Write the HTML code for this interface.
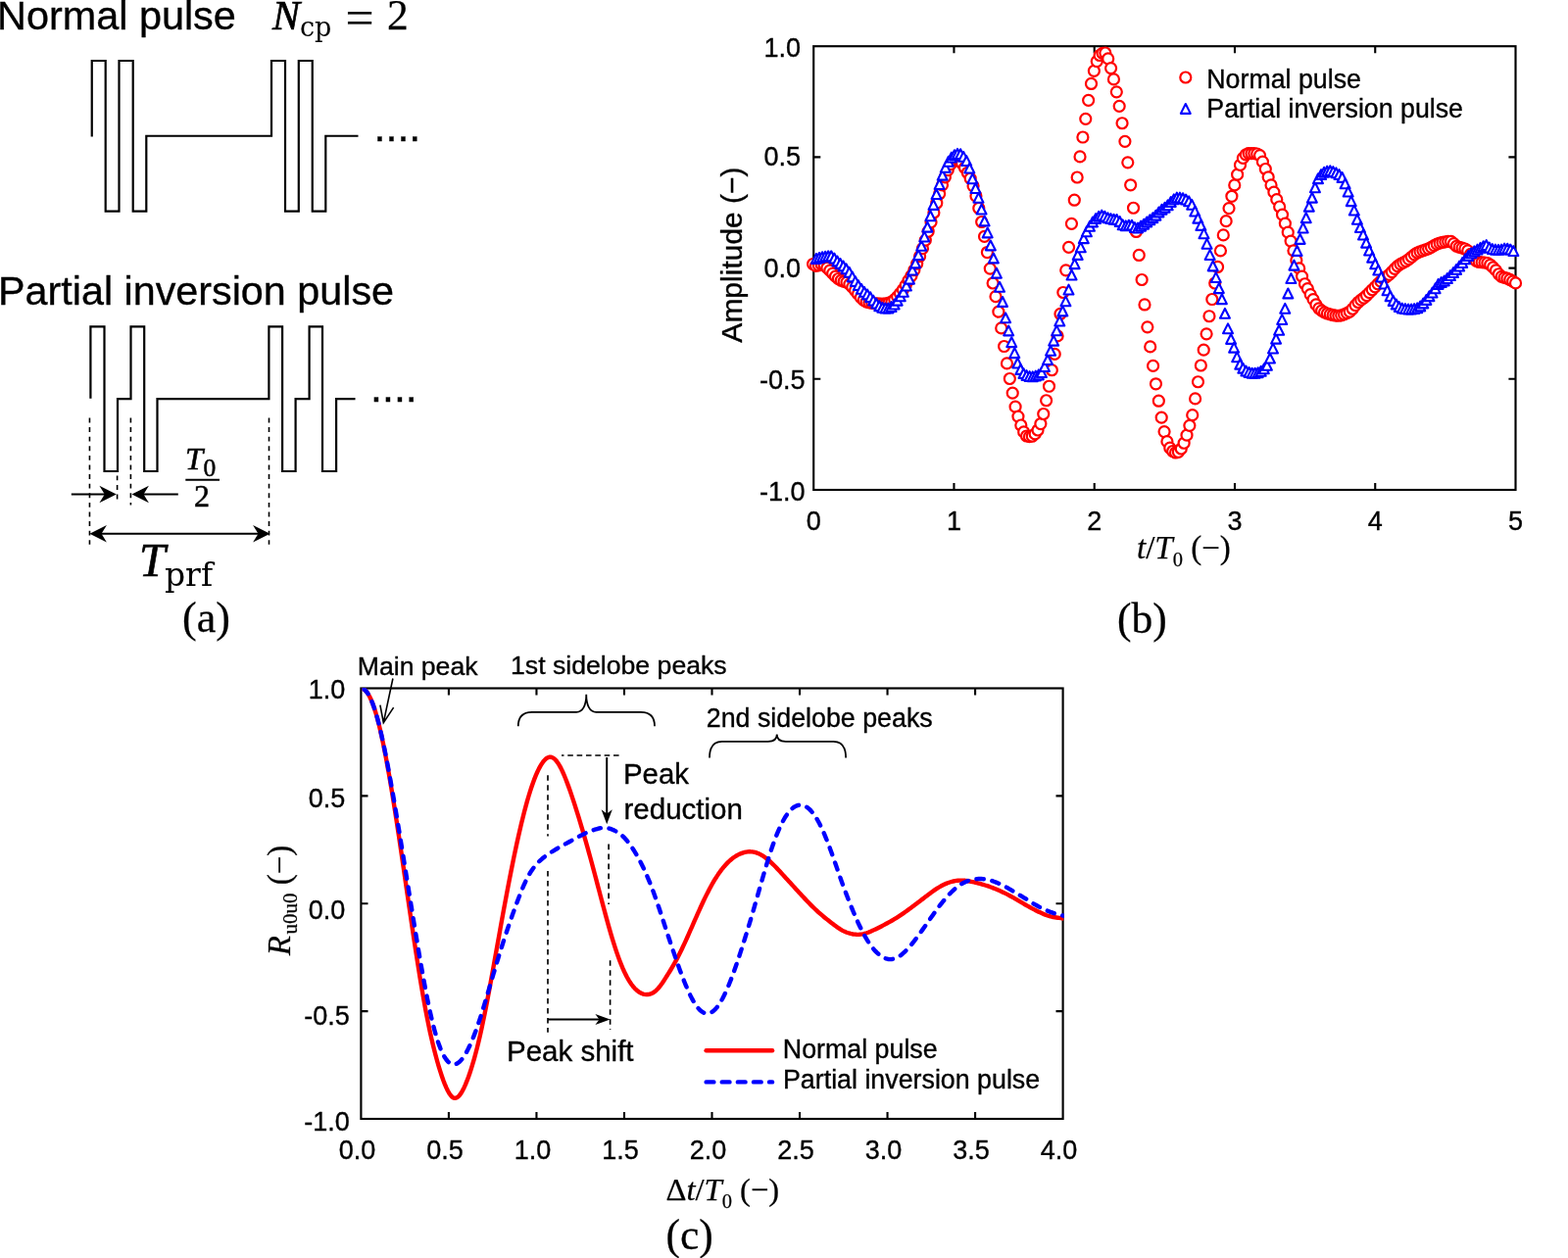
<!DOCTYPE html>
<html lang="en"><head><meta charset="utf-8"><title>Pulse waveforms and autocorrelation</title>
<style>html,body{margin:0;padding:0;background:#fff;}svg{display:block;}.sa{font-family:"Liberation Sans", Arial, Helvetica, sans-serif;fill:#000;stroke:#000;stroke-width:0.35px;}.se{font-family:"Liberation Serif", "Times New Roman", Times, serif;fill:#000;stroke:#000;stroke-width:0.25px;}.k{stroke:#000;fill:none;}
</style></head><body>
<svg width="1600" height="1284" viewBox="0 0 1600 1284" role="img" aria-label="Pulse sequences, measured waveforms and autocorrelation">
<rect x="0" y="0" width="1600" height="1284" fill="#fff"/>
<g id="panel-a">
<text class="sa" x="-3" y="29.5" font-size="41.4">Normal pulse</text>
<text class="se" x="278" y="30" font-size="42" font-style="italic" style="stroke-width:0.7px">N</text>
<text x="306" y="36.8" font-size="27" font-family='"DejaVu Serif", "Liberation Serif", serif' fill="#000">cp</text>
<text class="se" x="352.6" y="34.8" font-size="51.5">=</text>
<text class="se" x="395" y="30" font-size="43.5">2</text>
<path class="k" stroke-width="2.2" stroke-linejoin="miter" d="M93.75 139.5V62H107.7V215.6H121.5V62H135.7V215.6H149.3V138.75H277V62H291V215.6H304.8V62H318.75V215.6H332.3V138.75H365.5"/>
<text class="sa" x="381.5" y="143.5" font-size="43">....</text>
<text class="sa" x="-2" y="310.7" font-size="41.3">Partial inversion pulse</text>
<path class="k" stroke-width="2.2" stroke-linejoin="miter" d="M92.4 406.7V333.4H106.5V481H120V407.2H133.5V333.4H147.2V481H160.5V407.2H274.4V333.4H288.1V481H301.6V407.2H315.6V333.4H329V481H343.1V407.2H362.5"/>
<text class="sa" x="378" y="409.8" font-size="43">....</text>
<path class="k" stroke-width="1.6" stroke-dasharray="4.9 4.7" d="M91.45 426.5V555.8M133.4 426.5V515.4M274.5 426.5V555.8"/>
<path class="k" stroke-width="1.6" stroke-dasharray="4.9 4.7" d="M119.6 485.4V512.7"/>
<path class="k" stroke-width="2.1" d="M72.8 504.5H110M181.8 504.5H143M100 544.75H267"/>
<path fill="#000" d="M118.80 504.50L101.40 495.75L106.79 504.50L101.40 513.25ZM134.50 504.50L151.90 495.75L146.51 504.50L151.90 513.25ZM275.50 544.75L258.10 536.00L263.49 544.75L258.10 553.50ZM91.50 544.75L108.90 536.00L103.51 544.75L108.90 553.50Z"/>
<text class="se" x="189" y="478.8" font-size="32.5" font-style="italic" style="stroke-width:0.6px">T</text>
<text class="se" x="207.5" y="486.3" font-size="25.5" style="stroke-width:0.5px">0</text>
<path class="k" stroke-width="2" d="M189.3 489.7H224"/>
<text class="se" x="198" y="516.7" font-size="32" style="stroke-width:0.5px">2</text>
<text class="se" x="142" y="587.8" font-size="48" font-style="italic" style="stroke-width:0.7px">T</text>
<text x="168" y="597.7" font-size="33" font-family='"DejaVu Serif", "Liberation Serif", serif' fill="#000">prf</text>
<text class="se" x="186" y="644.8" font-size="44">(a)</text>
</g>
<g id="panel-b">
<rect class="k" x="830.2" y="47.2" width="716.3" height="452.8" stroke-width="2.15"/>
<path class="k" stroke-width="2.1" d="M973.46 500v-7.1M973.46 47.2v7.1M1116.72 500v-7.1M1116.72 47.2v7.1M1259.98 500v-7.1M1259.98 47.2v7.1M1403.24 500v-7.1M1403.24 47.2v7.1M830.2 160.4h7.1M1546.5 160.4h-7.1M830.2 273.6h7.1M1546.5 273.6h-7.1M830.2 386.8h7.1M1546.5 386.8h-7.1"/>
<g class="sa" font-size="27" text-anchor="middle">
<text x="798.2" y="57.7">1.0</text>
<text x="798.2" y="168.7">0.5</text>
<text x="798.2" y="282.9">0.0</text>
<text x="798.2" y="396.9">-0.5</text>
<text x="798.2" y="511">-1.0</text>
</g>
<g class="sa" font-size="27" text-anchor="middle">
<text x="830.2" y="541.2">0</text>
<text x="973.46" y="541.2">1</text>
<text x="1116.72" y="541.2">2</text>
<text x="1259.98" y="541.2">3</text>
<text x="1403.24" y="541.2">4</text>
<text x="1546.5" y="541.2">5</text>
</g>
<text class="sa" x="1231.3" y="89.6" font-size="26.75">Normal pulse</text>
<text class="sa" x="1231.3" y="120" font-size="26.75">Partial inversion pulse</text>
<text class="sa" transform="translate(757.4 260) rotate(-90)" text-anchor="middle" font-size="30">Amplitude (−)</text>
<text class="se" x="1160" y="570" font-size="33"><tspan font-style="italic">t</tspan>/<tspan font-style="italic">T</tspan><tspan font-size="20.5" dy="7.5">0</tspan><tspan dy="-7.5"> (−)</tspan></text>
<text class="se" x="1140" y="645.6" font-size="43.5">(b)</text>
<g fill="#fff" stroke="#f00" stroke-width="2.2">
<circle cx="829.6" cy="269.52" r="5.5"/>
<circle cx="832.47" cy="271.34" r="5.5"/>
<circle cx="835.34" cy="270.78" r="5.5"/>
<circle cx="838.2" cy="269.92" r="5.5"/>
<circle cx="841.07" cy="270.37" r="5.5"/>
<circle cx="843.94" cy="273.4" r="5.5"/>
<circle cx="846.81" cy="276.2" r="5.5"/>
<circle cx="849.67" cy="279.1" r="5.5"/>
<circle cx="852.54" cy="282.13" r="5.5"/>
<circle cx="855.41" cy="284.5" r="5.5"/>
<circle cx="858.28" cy="286.21" r="5.5"/>
<circle cx="861.14" cy="287.29" r="5.5"/>
<circle cx="864.01" cy="288.13" r="5.5"/>
<circle cx="866.88" cy="290.16" r="5.5"/>
<circle cx="869.75" cy="293.14" r="5.5"/>
<circle cx="872.62" cy="296.46" r="5.5"/>
<circle cx="875.48" cy="299.99" r="5.5"/>
<circle cx="878.35" cy="303.68" r="5.5"/>
<circle cx="881.22" cy="306.3" r="5.5"/>
<circle cx="884.09" cy="308.1" r="5.5"/>
<circle cx="886.95" cy="308.85" r="5.5"/>
<circle cx="889.82" cy="309.39" r="5.5"/>
<circle cx="892.69" cy="309.73" r="5.5"/>
<circle cx="895.56" cy="309.89" r="5.5"/>
<circle cx="898.42" cy="310.01" r="5.5"/>
<circle cx="901.29" cy="310.05" r="5.5"/>
<circle cx="904.16" cy="309.79" r="5.5"/>
<circle cx="907.03" cy="309.12" r="5.5"/>
<circle cx="909.9" cy="307.99" r="5.5"/>
<circle cx="912.76" cy="305.75" r="5.5"/>
<circle cx="915.63" cy="302.86" r="5.5"/>
<circle cx="918.5" cy="299.54" r="5.5"/>
<circle cx="921.37" cy="295.79" r="5.5"/>
<circle cx="924.23" cy="291.06" r="5.5"/>
<circle cx="927.1" cy="286.05" r="5.5"/>
<circle cx="929.97" cy="281.52" r="5.5"/>
<circle cx="932.84" cy="275.73" r="5.5"/>
<circle cx="935.7" cy="269.07" r="5.5"/>
<circle cx="938.57" cy="261.7" r="5.5"/>
<circle cx="941.44" cy="253.68" r="5.5"/>
<circle cx="944.31" cy="245.2" r="5.5"/>
<circle cx="947.18" cy="236.24" r="5.5"/>
<circle cx="950.04" cy="226.74" r="5.5"/>
<circle cx="952.91" cy="217" r="5.5"/>
<circle cx="955.78" cy="207.23" r="5.5"/>
<circle cx="958.65" cy="197.76" r="5.5"/>
<circle cx="961.51" cy="188.86" r="5.5"/>
<circle cx="964.38" cy="180.78" r="5.5"/>
<circle cx="967.25" cy="173.58" r="5.5"/>
<circle cx="970.12" cy="167.64" r="5.5"/>
<circle cx="972.99" cy="163.57" r="5.5"/>
<circle cx="975.85" cy="161.53" r="5.5"/>
<circle cx="978.72" cy="163.34" r="5.5"/>
<circle cx="981.59" cy="166.74" r="5.5"/>
<circle cx="984.46" cy="171.27" r="5.5"/>
<circle cx="987.32" cy="176.25" r="5.5"/>
<circle cx="990.19" cy="182.13" r="5.5"/>
<circle cx="993.06" cy="189.83" r="5.5"/>
<circle cx="995.93" cy="200.02" r="5.5"/>
<circle cx="998.79" cy="212.47" r="5.5"/>
<circle cx="1001.66" cy="226.51" r="5.5"/>
<circle cx="1004.53" cy="241.45" r="5.5"/>
<circle cx="1007.4" cy="257.53" r="5.5"/>
<circle cx="1010.27" cy="274.05" r="5.5"/>
<circle cx="1013.13" cy="289" r="5.5"/>
<circle cx="1016" cy="302.69" r="5.5"/>
<circle cx="1018.87" cy="318.2" r="5.5"/>
<circle cx="1021.74" cy="334.95" r="5.5"/>
<circle cx="1024.6" cy="353.52" r="5.5"/>
<circle cx="1027.47" cy="370.95" r="5.5"/>
<circle cx="1030.34" cy="386.51" r="5.5"/>
<circle cx="1033.21" cy="401.2" r="5.5"/>
<circle cx="1036.07" cy="415.19" r="5.5"/>
<circle cx="1038.94" cy="425.06" r="5.5"/>
<circle cx="1041.81" cy="434" r="5.5"/>
<circle cx="1044.68" cy="440.91" r="5.5"/>
<circle cx="1047.55" cy="444.98" r="5.5"/>
<circle cx="1050.41" cy="445.66" r="5.5"/>
<circle cx="1053.28" cy="445.21" r="5.5"/>
<circle cx="1056.15" cy="442.95" r="5.5"/>
<circle cx="1059.02" cy="439.01" r="5.5"/>
<circle cx="1061.88" cy="432.53" r="5.5"/>
<circle cx="1064.75" cy="422.5" r="5.5"/>
<circle cx="1067.62" cy="408.76" r="5.5"/>
<circle cx="1070.49" cy="394.27" r="5.5"/>
<circle cx="1073.35" cy="377.74" r="5.5"/>
<circle cx="1076.22" cy="361.44" r="5.5"/>
<circle cx="1079.09" cy="342.88" r="5.5"/>
<circle cx="1081.96" cy="320.46" r="5.5"/>
<circle cx="1084.83" cy="298.5" r="5.5"/>
<circle cx="1087.69" cy="275.8" r="5.5"/>
<circle cx="1090.56" cy="252.32" r="5.5"/>
<circle cx="1093.43" cy="228.32" r="5.5"/>
<circle cx="1096.3" cy="204.21" r="5.5"/>
<circle cx="1099.16" cy="181" r="5.5"/>
<circle cx="1102.03" cy="159.95" r="5.5"/>
<circle cx="1104.9" cy="140.02" r="5.5"/>
<circle cx="1107.77" cy="121.3" r="5.5"/>
<circle cx="1110.63" cy="102.31" r="5.5"/>
<circle cx="1113.5" cy="85.46" r="5.5"/>
<circle cx="1116.37" cy="72.33" r="5.5"/>
<circle cx="1119.24" cy="62.6" r="5.5"/>
<circle cx="1122.11" cy="56.48" r="5.5"/>
<circle cx="1124.97" cy="54.31" r="5.5"/>
<circle cx="1127.84" cy="53.99" r="5.5"/>
<circle cx="1130.71" cy="59.88" r="5.5"/>
<circle cx="1133.58" cy="69.61" r="5.5"/>
<circle cx="1136.44" cy="80.93" r="5.5"/>
<circle cx="1139.31" cy="93.84" r="5.5"/>
<circle cx="1142.18" cy="108.33" r="5.5"/>
<circle cx="1145.05" cy="125.76" r="5.5"/>
<circle cx="1147.91" cy="144.33" r="5.5"/>
<circle cx="1150.78" cy="165.83" r="5.5"/>
<circle cx="1153.65" cy="188.79" r="5.5"/>
<circle cx="1156.52" cy="212.25" r="5.5"/>
<circle cx="1159.39" cy="236.47" r="5.5"/>
<circle cx="1162.25" cy="260.47" r="5.5"/>
<circle cx="1165.12" cy="285.51" r="5.5"/>
<circle cx="1167.99" cy="310.96" r="5.5"/>
<circle cx="1170.86" cy="333.82" r="5.5"/>
<circle cx="1173.72" cy="353.9" r="5.5"/>
<circle cx="1176.59" cy="373.44" r="5.5"/>
<circle cx="1179.46" cy="391.78" r="5.5"/>
<circle cx="1182.33" cy="409.21" r="5.5"/>
<circle cx="1185.19" cy="426.19" r="5.5"/>
<circle cx="1188.06" cy="440.59" r="5.5"/>
<circle cx="1190.93" cy="450.64" r="5.5"/>
<circle cx="1193.8" cy="457.21" r="5.5"/>
<circle cx="1196.67" cy="460.49" r="5.5"/>
<circle cx="1199.53" cy="461.96" r="5.5"/>
<circle cx="1202.4" cy="461.29" r="5.5"/>
<circle cx="1205.27" cy="458" r="5.5"/>
<circle cx="1208.14" cy="452.23" r="5.5"/>
<circle cx="1211" cy="444.19" r="5.5"/>
<circle cx="1213.87" cy="434.34" r="5.5"/>
<circle cx="1216.74" cy="423.7" r="5.5"/>
<circle cx="1219.61" cy="406.95" r="5.5"/>
<circle cx="1222.47" cy="389.74" r="5.5"/>
<circle cx="1225.34" cy="372.99" r="5.5"/>
<circle cx="1228.21" cy="357.14" r="5.5"/>
<circle cx="1231.08" cy="340.84" r="5.5"/>
<circle cx="1233.95" cy="322.73" r="5.5"/>
<circle cx="1236.81" cy="305.52" r="5.5"/>
<circle cx="1239.68" cy="289" r="5.5"/>
<circle cx="1242.55" cy="272.47" r="5.5"/>
<circle cx="1245.42" cy="255.94" r="5.5"/>
<circle cx="1248.28" cy="239.91" r="5.5"/>
<circle cx="1251.15" cy="225.69" r="5.5"/>
<circle cx="1254.02" cy="212.61" r="5.5"/>
<circle cx="1256.89" cy="200.29" r="5.5"/>
<circle cx="1259.76" cy="188.93" r="5.5"/>
<circle cx="1262.62" cy="178.2" r="5.5"/>
<circle cx="1265.49" cy="168.39" r="5.5"/>
<circle cx="1268.36" cy="161.4" r="5.5"/>
<circle cx="1271.23" cy="157.8" r="5.5"/>
<circle cx="1274.09" cy="156.55" r="5.5"/>
<circle cx="1276.96" cy="156.55" r="5.5"/>
<circle cx="1279.83" cy="156.55" r="5.5"/>
<circle cx="1282.7" cy="157" r="5.5"/>
<circle cx="1285.56" cy="158.59" r="5.5"/>
<circle cx="1288.43" cy="165.15" r="5.5"/>
<circle cx="1291.3" cy="172.49" r="5.5"/>
<circle cx="1294.17" cy="180.78" r="5.5"/>
<circle cx="1297.04" cy="188.93" r="5.5"/>
<circle cx="1299.9" cy="196.17" r="5.5"/>
<circle cx="1302.77" cy="203.64" r="5.5"/>
<circle cx="1305.64" cy="211" r="5.5"/>
<circle cx="1308.51" cy="219.11" r="5.5"/>
<circle cx="1311.37" cy="228.09" r="5.5"/>
<circle cx="1314.24" cy="237.15" r="5.5"/>
<circle cx="1317.11" cy="246.09" r="5.5"/>
<circle cx="1319.98" cy="255.94" r="5.5"/>
<circle cx="1322.84" cy="265.68" r="5.5"/>
<circle cx="1325.71" cy="273.89" r="5.5"/>
<circle cx="1328.58" cy="282.09" r="5.5"/>
<circle cx="1331.45" cy="289.75" r="5.5"/>
<circle cx="1334.32" cy="294.67" r="5.5"/>
<circle cx="1337.18" cy="300.55" r="5.5"/>
<circle cx="1340.05" cy="305.63" r="5.5"/>
<circle cx="1342.92" cy="310.89" r="5.5"/>
<circle cx="1345.79" cy="314.82" r="5.5"/>
<circle cx="1348.65" cy="317.09" r="5.5"/>
<circle cx="1351.52" cy="318.81" r="5.5"/>
<circle cx="1354.39" cy="320.01" r="5.5"/>
<circle cx="1357.26" cy="320.87" r="5.5"/>
<circle cx="1360.12" cy="321.6" r="5.5"/>
<circle cx="1362.99" cy="322.11" r="5.5"/>
<circle cx="1365.86" cy="322.27" r="5.5"/>
<circle cx="1368.73" cy="321.87" r="5.5"/>
<circle cx="1371.6" cy="320.92" r="5.5"/>
<circle cx="1374.46" cy="319.59" r="5.5"/>
<circle cx="1377.33" cy="318.03" r="5.5"/>
<circle cx="1380.2" cy="315.23" r="5.5"/>
<circle cx="1383.07" cy="311.55" r="5.5"/>
<circle cx="1385.93" cy="308.5" r="5.5"/>
<circle cx="1388.8" cy="306.2" r="5.5"/>
<circle cx="1391.67" cy="304.02" r="5.5"/>
<circle cx="1394.54" cy="301.53" r="5.5"/>
<circle cx="1397.4" cy="298.69" r="5.5"/>
<circle cx="1400.27" cy="295.73" r="5.5"/>
<circle cx="1403.14" cy="292.83" r="5.5"/>
<circle cx="1406.01" cy="289.86" r="5.5"/>
<circle cx="1408.88" cy="287.05" r="5.5"/>
<circle cx="1411.74" cy="284.65" r="5.5"/>
<circle cx="1414.61" cy="282.53" r="5.5"/>
<circle cx="1417.48" cy="280.31" r="5.5"/>
<circle cx="1420.35" cy="277.53" r="5.5"/>
<circle cx="1423.21" cy="274.38" r="5.5"/>
<circle cx="1426.08" cy="271.56" r="5.5"/>
<circle cx="1428.95" cy="269.59" r="5.5"/>
<circle cx="1431.82" cy="268.07" r="5.5"/>
<circle cx="1434.68" cy="266.57" r="5.5"/>
<circle cx="1437.55" cy="264.66" r="5.5"/>
<circle cx="1440.42" cy="262.24" r="5.5"/>
<circle cx="1443.29" cy="259.84" r="5.5"/>
<circle cx="1446.16" cy="257.98" r="5.5"/>
<circle cx="1449.02" cy="256.78" r="5.5"/>
<circle cx="1451.89" cy="255.85" r="5.5"/>
<circle cx="1454.76" cy="254.95" r="5.5"/>
<circle cx="1457.63" cy="253.87" r="5.5"/>
<circle cx="1460.49" cy="252.36" r="5.5"/>
<circle cx="1463.36" cy="250.63" r="5.5"/>
<circle cx="1466.23" cy="249.07" r="5.5"/>
<circle cx="1469.1" cy="248.07" r="5.5"/>
<circle cx="1471.96" cy="247.39" r="5.5"/>
<circle cx="1474.83" cy="246.82" r="5.5"/>
<circle cx="1477.7" cy="246.45" r="5.5"/>
<circle cx="1480.57" cy="246.43" r="5.5"/>
<circle cx="1483.44" cy="248.61" r="5.5"/>
<circle cx="1486.3" cy="251.27" r="5.5"/>
<circle cx="1489.17" cy="252.38" r="5.5"/>
<circle cx="1492.04" cy="253.1" r="5.5"/>
<circle cx="1494.91" cy="253.98" r="5.5"/>
<circle cx="1497.77" cy="255.88" r="5.5"/>
<circle cx="1500.64" cy="259.42" r="5.5"/>
<circle cx="1503.51" cy="263.38" r="5.5"/>
<circle cx="1506.38" cy="266.42" r="5.5"/>
<circle cx="1509.24" cy="267.46" r="5.5"/>
<circle cx="1512.11" cy="267.74" r="5.5"/>
<circle cx="1514.98" cy="267.98" r="5.5"/>
<circle cx="1517.85" cy="268.51" r="5.5"/>
<circle cx="1520.72" cy="270.28" r="5.5"/>
<circle cx="1523.58" cy="272.92" r="5.5"/>
<circle cx="1526.45" cy="275.88" r="5.5"/>
<circle cx="1529.32" cy="279.76" r="5.5"/>
<circle cx="1532.19" cy="282.31" r="5.5"/>
<circle cx="1535.05" cy="283.31" r="5.5"/>
<circle cx="1537.92" cy="284.17" r="5.5"/>
<circle cx="1540.79" cy="285.47" r="5.5"/>
<circle cx="1543.66" cy="287.06" r="5.5"/>
<circle cx="1546.53" cy="288.9" r="5.5"/>
</g>
<g fill="#fff" stroke="#00f" stroke-width="2.1" stroke-linejoin="round">
<path d="M832.9 259.02L837.87 268.88L827.93 268.88Z"/>
<path d="M835.97 258.03L840.94 267.89L831 267.89Z"/>
<path d="M839.03 257.31L844 267.17L834.06 267.17Z"/>
<path d="M842.1 256.75L847.07 266.61L837.13 266.61Z"/>
<path d="M845.17 256.34L850.14 266.2L840.2 266.2Z"/>
<path d="M848.23 256.32L853.2 266.18L843.26 266.18Z"/>
<path d="M851.3 258.57L856.27 268.43L846.33 268.43Z"/>
<path d="M854.37 261.52L859.34 271.38L849.4 271.38Z"/>
<path d="M857.43 264L862.4 273.86L852.46 273.86Z"/>
<path d="M860.5 266.56L865.47 276.42L855.53 276.42Z"/>
<path d="M863.56 269.42L868.53 279.28L858.59 279.28Z"/>
<path d="M866.63 272.83L871.6 282.69L861.66 282.69Z"/>
<path d="M869.7 277.54L874.67 287.4L864.73 287.4Z"/>
<path d="M872.76 282.12L877.73 291.98L867.79 291.98Z"/>
<path d="M875.83 286.17L880.8 296.03L870.86 296.03Z"/>
<path d="M878.9 289.84L883.87 299.7L873.93 299.7Z"/>
<path d="M881.96 292.92L886.93 302.78L876.99 302.78Z"/>
<path d="M885.03 295.52L890 305.38L880.06 305.38Z"/>
<path d="M888.1 298.26L893.07 308.12L883.13 308.12Z"/>
<path d="M891.16 301.61L896.13 311.47L886.19 311.47Z"/>
<path d="M894.23 304.68L899.2 314.54L889.26 314.54Z"/>
<path d="M897.3 307.3L902.27 317.16L892.33 317.16Z"/>
<path d="M900.36 308.96L905.33 318.82L895.39 318.82Z"/>
<path d="M903.43 309.52L908.4 319.38L898.46 319.38Z"/>
<path d="M906.5 309.51L911.47 319.37L901.53 319.37Z"/>
<path d="M909.56 308.12L914.53 317.98L904.59 317.98Z"/>
<path d="M912.63 305.6L917.6 315.46L907.66 315.46Z"/>
<path d="M915.7 301.74L920.67 311.6L910.73 311.6Z"/>
<path d="M918.76 297.36L923.73 307.22L913.79 307.22Z"/>
<path d="M921.83 292.93L926.8 302.79L916.86 302.79Z"/>
<path d="M924.89 286.59L929.87 296.45L919.92 296.45Z"/>
<path d="M927.96 279.81L932.93 289.67L922.99 289.67Z"/>
<path d="M931.03 270.7L936 280.56L926.06 280.56Z"/>
<path d="M934.09 263.54L939.06 273.4L929.12 273.4Z"/>
<path d="M937.16 255.21L942.13 265.07L932.19 265.07Z"/>
<path d="M940.23 245.91L945.2 255.77L935.26 255.77Z"/>
<path d="M943.29 236.62L948.26 246.48L938.32 246.48Z"/>
<path d="M946.36 226.73L951.33 236.59L941.39 236.59Z"/>
<path d="M949.43 215.34L954.4 225.2L944.46 225.2Z"/>
<path d="M952.49 204L957.46 213.86L947.52 213.86Z"/>
<path d="M955.56 193.21L960.53 203.07L950.59 203.07Z"/>
<path d="M958.63 183.07L963.6 192.93L953.66 192.93Z"/>
<path d="M961.69 173.8L966.66 183.66L956.72 183.66Z"/>
<path d="M964.76 165.88L969.73 175.74L959.79 175.74Z"/>
<path d="M967.83 159.84L972.8 169.7L962.86 169.7Z"/>
<path d="M970.89 155.63L975.86 165.49L965.92 165.49Z"/>
<path d="M973.96 153.23L978.93 163.09L968.99 163.09Z"/>
<path d="M977.03 151.85L982 161.71L972.06 161.71Z"/>
<path d="M980.09 152.31L985.06 162.17L975.12 162.17Z"/>
<path d="M983.16 154.87L988.13 164.73L978.19 164.73Z"/>
<path d="M986.22 159.2L991.19 169.06L981.25 169.06Z"/>
<path d="M989.29 166.71L994.26 176.57L984.32 176.57Z"/>
<path d="M992.36 177.44L997.33 187.3L987.39 187.3Z"/>
<path d="M995.42 187.07L1000.39 196.93L990.45 196.93Z"/>
<path d="M998.49 196.87L1003.46 206.73L993.52 206.73Z"/>
<path d="M1001.56 208.71L1006.53 218.57L996.59 218.57Z"/>
<path d="M1004.62 220.49L1009.59 230.35L999.65 230.35Z"/>
<path d="M1007.69 232.54L1012.66 242.4L1002.72 242.4Z"/>
<path d="M1010.76 245.48L1015.73 255.34L1005.79 255.34Z"/>
<path d="M1013.82 258.52L1018.79 268.38L1008.85 268.38Z"/>
<path d="M1016.89 273.76L1021.86 283.62L1011.92 283.62Z"/>
<path d="M1019.96 287.84L1024.93 297.7L1014.99 297.7Z"/>
<path d="M1023.02 303.06L1027.99 312.92L1018.05 312.92Z"/>
<path d="M1026.09 319.41L1031.06 329.27L1021.12 329.27Z"/>
<path d="M1029.16 332.51L1034.13 342.37L1024.19 342.37Z"/>
<path d="M1032.22 344.24L1037.19 354.1L1027.25 354.1Z"/>
<path d="M1035.29 355.28L1040.26 365.14L1030.32 365.14Z"/>
<path d="M1038.36 365.57L1043.33 375.43L1033.39 375.43Z"/>
<path d="M1041.42 372.04L1046.39 381.9L1036.45 381.9Z"/>
<path d="M1044.49 376.18L1049.46 386.04L1039.52 386.04Z"/>
<path d="M1047.56 378.21L1052.53 388.07L1042.59 388.07Z"/>
<path d="M1050.62 379.13L1055.59 388.99L1045.65 388.99Z"/>
<path d="M1053.69 379.35L1058.66 389.21L1048.72 389.21Z"/>
<path d="M1056.75 378.65L1061.72 388.51L1051.78 388.51Z"/>
<path d="M1059.82 377.47L1064.79 387.33L1054.85 387.33Z"/>
<path d="M1062.89 375.19L1067.86 385.05L1057.92 385.05Z"/>
<path d="M1065.95 369.08L1070.92 378.94L1060.98 378.94Z"/>
<path d="M1069.02 362.16L1073.99 372.02L1064.05 372.02Z"/>
<path d="M1072.09 352.91L1077.06 362.77L1067.12 362.77Z"/>
<path d="M1075.15 342.75L1080.12 352.61L1070.18 352.61Z"/>
<path d="M1078.22 332.38L1083.19 342.24L1073.25 342.24Z"/>
<path d="M1081.29 322.7L1086.26 332.56L1076.32 332.56Z"/>
<path d="M1084.35 312.56L1089.32 322.42L1079.38 322.42Z"/>
<path d="M1087.42 302.39L1092.39 312.25L1082.45 312.25Z"/>
<path d="M1090.49 290.71L1095.46 300.57L1085.52 300.57Z"/>
<path d="M1093.55 275.66L1098.52 285.52L1088.58 285.52Z"/>
<path d="M1096.62 264.29L1101.59 274.15L1091.65 274.15Z"/>
<path d="M1099.69 255.05L1104.66 264.91L1094.72 264.91Z"/>
<path d="M1102.75 247.36L1107.72 257.22L1097.78 257.22Z"/>
<path d="M1105.82 238.3L1110.79 248.16L1100.85 248.16Z"/>
<path d="M1108.88 231.33L1113.86 241.19L1103.91 241.19Z"/>
<path d="M1111.95 225.95L1116.92 235.81L1106.98 235.81Z"/>
<path d="M1115.02 221.53L1119.99 231.39L1110.05 231.39Z"/>
<path d="M1118.08 218.18L1123.05 228.04L1113.11 228.04Z"/>
<path d="M1121.15 215.85L1126.12 225.71L1116.18 225.71Z"/>
<path d="M1124.22 214.68L1129.19 224.54L1119.25 224.54Z"/>
<path d="M1127.28 215.81L1132.25 225.67L1122.31 225.67Z"/>
<path d="M1130.35 217.26L1135.32 227.12L1125.38 227.12Z"/>
<path d="M1133.42 218.2L1138.39 228.06L1128.45 228.06Z"/>
<path d="M1136.48 218.8L1141.45 228.66L1131.51 228.66Z"/>
<path d="M1139.55 219.02L1144.52 228.88L1134.58 228.88Z"/>
<path d="M1142.62 221.06L1147.59 230.92L1137.65 230.92Z"/>
<path d="M1145.68 224.39L1150.65 234.25L1140.71 234.25Z"/>
<path d="M1148.75 225.42L1153.72 235.28L1143.78 235.28Z"/>
<path d="M1151.82 224.75L1156.79 234.61L1146.85 234.61Z"/>
<path d="M1154.88 224.75L1159.85 234.61L1149.91 234.61Z"/>
<path d="M1157.95 227.11L1162.92 236.97L1152.98 236.97Z"/>
<path d="M1161.02 227.57L1165.99 237.43L1156.05 237.43Z"/>
<path d="M1164.08 225.72L1169.05 235.58L1159.11 235.58Z"/>
<path d="M1167.15 223.73L1172.12 233.59L1162.18 233.59Z"/>
<path d="M1170.21 221.51L1175.18 231.37L1165.24 231.37Z"/>
<path d="M1173.28 219.36L1178.25 229.22L1168.31 229.22Z"/>
<path d="M1176.35 217.31L1181.32 227.17L1171.38 227.17Z"/>
<path d="M1179.41 214.78L1184.38 224.64L1174.44 224.64Z"/>
<path d="M1182.48 211.48L1187.45 221.34L1177.51 221.34Z"/>
<path d="M1185.55 208.77L1190.52 218.63L1180.58 218.63Z"/>
<path d="M1188.61 206.76L1193.58 216.62L1183.64 216.62Z"/>
<path d="M1191.68 204.33L1196.65 214.19L1186.71 214.19Z"/>
<path d="M1194.75 201.05L1199.72 210.91L1189.78 210.91Z"/>
<path d="M1197.81 198.37L1202.78 208.23L1192.84 208.23Z"/>
<path d="M1200.88 196.68L1205.85 206.54L1195.91 206.54Z"/>
<path d="M1203.95 196.67L1208.92 206.53L1198.98 206.53Z"/>
<path d="M1207.01 197.3L1211.98 207.16L1202.04 207.16Z"/>
<path d="M1210.08 198.59L1215.05 208.45L1205.11 208.45Z"/>
<path d="M1213.15 200.42L1218.12 210.28L1208.18 210.28Z"/>
<path d="M1216.21 203.92L1221.18 213.78L1211.24 213.78Z"/>
<path d="M1219.28 210.62L1224.25 220.48L1214.31 220.48Z"/>
<path d="M1222.35 217.81L1227.32 227.67L1217.38 227.67Z"/>
<path d="M1225.41 225.03L1230.38 234.89L1220.44 234.89Z"/>
<path d="M1228.48 233.35L1233.45 243.21L1223.51 243.21Z"/>
<path d="M1231.55 243.85L1236.52 253.71L1226.58 253.71Z"/>
<path d="M1234.61 255.11L1239.58 264.97L1229.64 264.97Z"/>
<path d="M1237.68 266.48L1242.65 276.34L1232.71 276.34Z"/>
<path d="M1240.74 278.12L1245.71 287.98L1235.77 287.98Z"/>
<path d="M1243.81 289.23L1248.78 299.09L1238.84 299.09Z"/>
<path d="M1246.88 300.28L1251.85 310.14L1241.91 310.14Z"/>
<path d="M1249.94 314.93L1254.91 324.79L1244.97 324.79Z"/>
<path d="M1253.01 330.37L1257.98 340.23L1248.04 340.23Z"/>
<path d="M1256.08 341L1261.05 350.86L1251.11 350.86Z"/>
<path d="M1259.14 349.77L1264.11 359.63L1254.17 359.63Z"/>
<path d="M1262.21 359.4L1267.18 369.26L1257.24 369.26Z"/>
<path d="M1265.28 366.8L1270.25 376.66L1260.31 376.66Z"/>
<path d="M1268.34 370.77L1273.31 380.63L1263.37 380.63Z"/>
<path d="M1271.41 373.57L1276.38 383.43L1266.44 383.43Z"/>
<path d="M1274.48 374.98L1279.45 384.84L1269.51 384.84Z"/>
<path d="M1277.54 375.76L1282.51 385.62L1272.57 385.62Z"/>
<path d="M1280.61 375.78L1285.58 385.64L1275.64 385.64Z"/>
<path d="M1283.68 375.24L1288.65 385.1L1278.71 385.1Z"/>
<path d="M1286.74 373.83L1291.71 383.69L1281.77 383.69Z"/>
<path d="M1289.81 371.4L1294.78 381.26L1284.84 381.26Z"/>
<path d="M1292.88 367.93L1297.85 377.79L1287.9 377.79Z"/>
<path d="M1295.94 360.69L1300.91 370.55L1290.97 370.55Z"/>
<path d="M1299.01 350.63L1303.98 360.49L1294.04 360.49Z"/>
<path d="M1302.07 340.76L1307.04 350.62L1297.1 350.62Z"/>
<path d="M1305.14 331.95L1310.11 341.81L1300.17 341.81Z"/>
<path d="M1308.21 321.15L1313.18 331.01L1303.24 331.01Z"/>
<path d="M1311.27 309.85L1316.24 319.71L1306.3 319.71Z"/>
<path d="M1314.34 294.56L1319.31 304.42L1309.37 304.42Z"/>
<path d="M1317.41 279.21L1322.38 289.07L1312.44 289.07Z"/>
<path d="M1320.47 265.72L1325.44 275.58L1315.5 275.58Z"/>
<path d="M1323.54 251.02L1328.51 260.88L1318.57 260.88Z"/>
<path d="M1326.61 238.98L1331.58 248.84L1321.64 248.84Z"/>
<path d="M1329.67 227.59L1334.64 237.45L1324.7 237.45Z"/>
<path d="M1332.74 217.29L1337.71 227.15L1327.77 227.15Z"/>
<path d="M1335.81 205.8L1340.78 215.66L1330.84 215.66Z"/>
<path d="M1338.87 196.81L1343.84 206.67L1333.9 206.67Z"/>
<path d="M1341.94 186.33L1346.91 196.19L1336.97 196.19Z"/>
<path d="M1345.01 177.3L1349.98 187.16L1340.04 187.16Z"/>
<path d="M1348.07 173.1L1353.04 182.96L1343.1 182.96Z"/>
<path d="M1351.14 170.81L1356.11 180.67L1346.17 180.67Z"/>
<path d="M1354.2 169.66L1359.17 179.52L1349.23 179.52Z"/>
<path d="M1357.27 169.31L1362.24 179.17L1352.3 179.17Z"/>
<path d="M1360.34 170.11L1365.31 179.97L1355.37 179.97Z"/>
<path d="M1363.4 171.44L1368.37 181.3L1358.43 181.3Z"/>
<path d="M1366.47 173.18L1371.44 183.04L1361.5 183.04Z"/>
<path d="M1369.54 176.06L1374.51 185.92L1364.57 185.92Z"/>
<path d="M1372.6 182.41L1377.57 192.27L1367.63 192.27Z"/>
<path d="M1375.67 190.71L1380.64 200.57L1370.7 200.57Z"/>
<path d="M1378.74 200.24L1383.71 210.1L1373.77 210.1Z"/>
<path d="M1381.8 209.63L1386.77 219.49L1376.83 219.49Z"/>
<path d="M1384.87 218.85L1389.84 228.71L1379.9 228.71Z"/>
<path d="M1387.94 227.16L1392.91 237.02L1382.97 237.02Z"/>
<path d="M1391 234.57L1395.97 244.43L1386.03 244.43Z"/>
<path d="M1394.07 242.74L1399.04 252.6L1389.1 252.6Z"/>
<path d="M1397.14 250.58L1402.11 260.44L1392.17 260.44Z"/>
<path d="M1400.2 257.8L1405.17 267.66L1395.23 267.66Z"/>
<path d="M1403.27 264.38L1408.24 274.24L1398.3 274.24Z"/>
<path d="M1406.34 270.6L1411.31 280.46L1401.37 280.46Z"/>
<path d="M1409.4 277.64L1414.37 287.5L1404.43 287.5Z"/>
<path d="M1412.47 284.69L1417.44 294.55L1407.5 294.55Z"/>
<path d="M1415.53 291.39L1420.5 301.25L1410.56 301.25Z"/>
<path d="M1418.6 297.31L1423.57 307.17L1413.63 307.17Z"/>
<path d="M1421.67 302.04L1426.64 311.9L1416.7 311.9Z"/>
<path d="M1424.73 305.54L1429.7 315.4L1419.76 315.4Z"/>
<path d="M1427.8 308.1L1432.77 317.96L1422.83 317.96Z"/>
<path d="M1430.87 309.62L1435.84 319.48L1425.9 319.48Z"/>
<path d="M1433.93 310.18L1438.9 320.04L1428.96 320.04Z"/>
<path d="M1437 310.49L1441.97 320.35L1432.03 320.35Z"/>
<path d="M1440.07 310.53L1445.04 320.39L1435.1 320.39Z"/>
<path d="M1443.13 310.14L1448.1 320L1438.16 320Z"/>
<path d="M1446.2 309.43L1451.17 319.29L1441.23 319.29Z"/>
<path d="M1449.27 307.48L1454.24 317.34L1444.3 317.34Z"/>
<path d="M1452.33 304.52L1457.3 314.38L1447.36 314.38Z"/>
<path d="M1455.4 300.99L1460.37 310.85L1450.43 310.85Z"/>
<path d="M1458.47 297.3L1463.44 307.16L1453.5 307.16Z"/>
<path d="M1461.53 293.7L1466.5 303.56L1456.56 303.56Z"/>
<path d="M1464.6 289.46L1469.57 299.32L1459.63 299.32Z"/>
<path d="M1467.67 284.97L1472.64 294.83L1462.7 294.83Z"/>
<path d="M1470.73 283.09L1475.7 292.95L1465.76 292.95Z"/>
<path d="M1473.8 281.55L1478.77 291.41L1468.83 291.41Z"/>
<path d="M1476.87 279.08L1481.84 288.94L1471.89 288.94Z"/>
<path d="M1479.93 276.1L1484.9 285.96L1474.96 285.96Z"/>
<path d="M1483 273.13L1487.97 282.99L1478.03 282.99Z"/>
<path d="M1486.06 270.01L1491.03 279.87L1481.09 279.87Z"/>
<path d="M1489.13 266.66L1494.1 276.52L1484.16 276.52Z"/>
<path d="M1492.2 263.13L1497.17 272.99L1487.23 272.99Z"/>
<path d="M1495.26 259.33L1500.23 269.19L1490.29 269.19Z"/>
<path d="M1498.33 256.06L1503.3 265.92L1493.36 265.92Z"/>
<path d="M1501.4 253.34L1506.37 263.2L1496.43 263.2Z"/>
<path d="M1504.46 251.33L1509.43 261.19L1499.49 261.19Z"/>
<path d="M1507.53 249.65L1512.5 259.51L1502.56 259.51Z"/>
<path d="M1510.6 247.95L1515.57 257.81L1505.63 257.81Z"/>
<path d="M1513.66 246.27L1518.63 256.13L1508.69 256.13Z"/>
<path d="M1516.73 245.14L1521.7 255L1511.76 255Z"/>
<path d="M1519.8 247.65L1524.77 257.51L1514.83 257.51Z"/>
<path d="M1522.86 249.17L1527.83 259.03L1517.89 259.03Z"/>
<path d="M1525.93 249.72L1530.9 259.58L1520.96 259.58Z"/>
<path d="M1529 249.86L1533.97 259.72L1524.03 259.72Z"/>
<path d="M1532.06 249.68L1537.03 259.54L1527.09 259.54Z"/>
<path d="M1535.13 248.65L1540.1 258.51L1530.16 258.51Z"/>
<path d="M1538.19 248.75L1543.16 258.61L1533.22 258.61Z"/>
<path d="M1541.26 249.58L1546.23 259.44L1536.29 259.44Z"/>
<path d="M1544.33 251.14L1549.3 261L1539.36 261Z"/>
</g>
<circle cx="1209.8" cy="79" r="5.5" fill="#fff" stroke="#f00" stroke-width="2.2"/>
<path d="M1209.8 106.01L1214.77 115.87L1204.83 115.87Z" fill="#fff" stroke="#00f" stroke-width="2.1" stroke-linejoin="round"/>
</g>
<g id="panel-c">
<path class="k" stroke-width="1.6" stroke-dasharray="5.6 3.75" stroke-dashoffset="3.1" d="M573 771H631.7"/>
<path class="k" stroke-width="1.65" stroke-dasharray="5.6 4.4" d="M559 791.2V853.5M559 889V1053.8M621.1 861.6V923M622.6 980.2V1051"/>
<rect class="k" x="368.4" y="702.5" width="716.2" height="439.5" stroke-width="2.15"/>
<path class="k" stroke-width="2.1" d="M457.92 1142v-7.1M457.92 702.5v7.1M547.45 1142v-7.1M547.45 702.5v7.1M636.98 1142v-7.1M636.98 702.5v7.1M726.5 1142v-7.1M726.5 702.5v7.1M816.02 1142v-7.1M816.02 702.5v7.1M905.55 1142v-7.1M905.55 702.5v7.1M995.08 1142v-7.1M995.08 702.5v7.1M368.4 812.38h7.1M1084.6 812.38h-7.1M368.4 922.25h7.1M1084.6 922.25h-7.1M368.4 1032.12h7.1M1084.6 1032.12h-7.1"/>
<svg x="369.5" y="701.9" width="716.3" height="440.7" viewBox="369.5 701.9 716.3 440.7" overflow="hidden"><g fill="none" stroke-linejoin="round">
<path d="M368.4 702.5L369.9 702.79L371.4 703.52L372.9 704.76L374.4 706.5L375.9 708.73L377.4 711.47L378.9 714.72L380.4 718.47L381.9 722.73L383.4 727.5L384.9 732.76L386.4 738.5L387.9 744.71L389.4 751.36L390.9 758.41L392.4 765.85L393.9 773.65L395.4 781.78L396.9 790.21L398.4 798.94L399.9 807.92L401.4 817.14L402.9 826.59L404.4 836.24L405.9 846.06L407.4 856.04L408.9 866.16L410.4 876.38L411.9 886.68L413.4 897.02L414.9 907.38L416.4 917.72L417.9 928.01L419.4 938.24L420.9 948.37L422.4 958.38L423.9 968.26L425.4 977.98L426.9 987.51L428.4 996.82L429.9 1005.9L431.4 1014.7L432.9 1023.2L434.4 1031.36L435.9 1039.17L437.4 1046.61L438.9 1053.68L440.4 1060.39L441.9 1066.76L443.4 1072.81L444.9 1078.54L446.4 1083.97L447.9 1089.1L449.4 1093.94L450.9 1098.47L452.4 1102.7L453.9 1106.6L455.4 1110.13L456.9 1113.25L458.4 1115.9L459.9 1118.04L461.4 1119.61L462.9 1120.57L464.4 1120.86L465.9 1120.48L467.4 1119.48L468.9 1117.91L470.4 1115.84L471.9 1113.32L473.4 1110.38L474.9 1107.08L476.4 1103.44L477.9 1099.47L479.4 1095.19L480.9 1090.61L482.4 1085.72L483.9 1080.53L485.4 1075.04L486.9 1069.23L488.4 1063.11L489.9 1056.67L491.4 1049.93L492.9 1042.9L494.4 1035.58L495.9 1028.01L497.4 1020.22L498.9 1012.23L500.4 1004.1L501.9 995.86L503.4 987.54L504.9 979.18L506.4 970.79L507.9 962.41L509.4 954.04L510.9 945.7L512.4 937.41L513.9 929.2L515.4 921.07L516.9 913.04L518.4 905.13L519.9 897.35L521.4 889.71L522.9 882.23L524.4 874.91L525.9 867.76L527.4 860.79L528.9 854.01L530.4 847.43L531.9 841.06L533.4 834.91L534.9 829L536.4 823.32L537.9 817.9L539.4 812.74L540.9 807.85L542.4 803.24L543.9 798.92L545.4 794.89L546.9 791.17L548.4 787.75L549.9 784.64L551.4 781.87L552.9 779.42L554.4 777.31L555.9 775.58L557.4 774.22L558.9 773.28L560.4 772.77L561.9 772.71L563.4 773.09L564.9 773.92L566.4 775.17L567.9 776.84L569.4 778.92L570.9 781.37L572.4 784.16L573.9 787.26L575.4 790.64L576.9 794.26L578.4 798.09L579.9 802.12L581.4 806.32L582.9 810.65L584.4 815.11L585.9 819.67L587.4 824.33L588.9 829.09L590.4 833.94L591.9 838.86L593.4 843.87L594.9 848.95L596.4 854.11L597.9 859.34L599.4 864.66L600.9 870.05L602.4 875.51L603.9 881.04L605.4 886.62L606.9 892.25L608.4 897.91L609.9 903.59L611.4 909.28L612.9 914.96L614.4 920.63L615.9 926.26L617.4 931.85L618.9 937.36L620.4 942.79L621.9 948.1L623.4 953.29L624.9 958.32L626.4 963.18L627.9 967.85L629.4 972.34L630.9 976.62L632.4 980.68L633.9 984.52L635.4 988.13L636.9 991.5L638.4 994.63L639.9 997.52L641.4 1000.16L642.9 1002.57L644.4 1004.74L645.9 1006.69L647.4 1008.42L648.9 1009.95L650.4 1011.27L651.9 1012.38L653.4 1013.3L654.9 1014.03L656.4 1014.56L657.9 1014.91L659.4 1015.07L660.9 1015.05L662.4 1014.83L663.9 1014.42L665.4 1013.8L666.9 1012.97L668.4 1011.9L669.9 1010.59L671.4 1009.03L672.9 1007.25L674.4 1005.29L675.9 1003.18L677.4 1000.95L678.9 998.64L680.4 996.28L681.9 993.9L683.4 991.47L684.9 989L686.4 986.46L687.9 983.84L689.4 981.13L690.9 978.34L692.4 975.45L693.9 972.49L695.4 969.43L696.9 966.29L698.4 963.08L699.9 959.81L701.4 956.48L702.9 953.11L704.4 949.71L705.9 946.29L707.4 942.87L708.9 939.45L710.4 936.04L711.9 932.65L713.4 929.3L714.9 925.99L716.4 922.74L717.9 919.54L719.4 916.42L720.9 913.36L722.4 910.39L723.9 907.51L725.4 904.72L726.9 902.04L728.4 899.46L729.9 896.98L731.4 894.62L732.9 892.36L734.4 890.21L735.9 888.17L737.4 886.24L738.9 884.43L740.4 882.72L741.9 881.13L743.4 879.64L744.9 878.25L746.4 876.98L747.9 875.8L749.4 874.73L750.9 873.76L752.4 872.88L753.9 872.1L755.4 871.42L756.9 870.83L758.4 870.33L759.9 869.93L761.4 869.62L762.9 869.42L764.4 869.32L765.9 869.32L767.4 869.43L768.9 869.65L770.4 869.97L771.9 870.41L773.4 870.95L774.9 871.6L776.4 872.37L777.9 873.24L779.4 874.21L780.9 875.28L782.4 876.43L783.9 877.67L785.4 878.98L786.9 880.35L788.4 881.79L789.9 883.28L791.4 884.82L792.9 886.39L794.4 887.99L795.9 889.61L797.4 891.24L798.9 892.88L800.4 894.52L801.9 896.16L803.4 897.8L804.9 899.44L806.4 901.08L807.9 902.73L809.4 904.37L810.9 906.01L812.4 907.65L813.9 909.29L815.4 910.92L816.9 912.55L818.4 914.17L819.9 915.78L821.4 917.37L822.9 918.95L824.4 920.51L825.9 922.06L827.4 923.58L828.9 925.07L830.4 926.54L831.9 927.98L833.4 929.39L834.9 930.77L836.4 932.11L837.9 933.42L839.4 934.7L840.9 935.95L842.4 937.18L843.9 938.39L845.4 939.59L846.9 940.76L848.4 941.92L849.9 943.07L851.4 944.21L852.9 945.33L854.4 946.42L855.9 947.45L857.4 948.43L858.9 949.32L860.4 950.13L861.9 950.84L863.4 951.47L864.9 952.01L866.4 952.48L867.9 952.88L869.4 953.21L870.9 953.48L872.4 953.67L873.9 953.8L875.4 953.83L876.9 953.78L878.4 953.63L879.9 953.4L881.4 953.09L882.9 952.7L884.4 952.25L885.9 951.73L887.4 951.14L888.9 950.51L890.4 949.84L891.9 949.13L893.4 948.4L894.9 947.66L896.4 946.91L897.9 946.16L899.4 945.41L900.9 944.64L902.4 943.86L903.9 943.07L905.4 942.26L906.9 941.44L908.4 940.59L909.9 939.73L911.4 938.84L912.9 937.94L914.4 937.02L915.9 936.07L917.4 935.11L918.9 934.12L920.4 933.12L921.9 932.1L923.4 931.05L924.9 929.99L926.4 928.9L927.9 927.8L929.4 926.69L930.9 925.56L932.4 924.43L933.9 923.3L935.4 922.16L936.9 921.03L938.4 919.89L939.9 918.75L941.4 917.62L942.9 916.47L944.4 915.33L945.9 914.19L947.4 913.05L948.9 911.92L950.4 910.81L951.9 909.72L953.4 908.67L954.9 907.65L956.4 906.68L957.9 905.75L959.4 904.86L960.9 904.03L962.4 903.26L963.9 902.54L965.4 901.88L966.9 901.27L968.4 900.73L969.9 900.25L971.4 899.83L972.9 899.47L974.4 899.17L975.9 898.94L977.4 898.76L978.9 898.64L980.4 898.59L981.9 898.6L983.4 898.67L984.9 898.81L986.4 898.99L987.9 899.23L989.4 899.5L990.9 899.8L992.4 900.12L993.9 900.46L995.4 900.82L996.9 901.19L998.4 901.57L999.9 901.97L1001.4 902.38L1002.9 902.81L1004.4 903.26L1005.9 903.73L1007.4 904.21L1008.9 904.71L1010.4 905.23L1011.9 905.78L1013.4 906.34L1014.9 906.93L1016.4 907.54L1017.9 908.17L1019.4 908.82L1020.9 909.49L1022.4 910.18L1023.9 910.89L1025.4 911.62L1026.9 912.37L1028.4 913.14L1029.9 913.93L1031.4 914.74L1032.9 915.57L1034.4 916.42L1035.9 917.29L1037.4 918.16L1038.9 919.05L1040.4 919.94L1041.9 920.83L1043.4 921.72L1044.9 922.6L1046.4 923.48L1047.9 924.34L1049.4 925.2L1050.9 926.03L1052.4 926.84L1053.9 927.64L1055.4 928.42L1056.9 929.18L1058.4 929.92L1059.9 930.65L1061.4 931.36L1062.9 932.05L1064.4 932.72L1065.9 933.36L1067.4 933.95L1068.9 934.49L1070.4 934.97L1071.9 935.38L1073.4 935.72L1074.9 936.02L1076.4 936.28L1077.9 936.51L1079.4 936.73L1080.9 936.94L1082.4 937.15L1083.9 937.37L1085.4 937.59" stroke="#f00" stroke-width="4.4"/>
<path d="M368.4 702.5L369.9 702.79L371.4 703.52L372.9 704.76L374.4 706.5L375.9 708.74L377.4 711.48L378.9 714.71L380.4 718.43L381.9 722.63L383.4 727.33L384.9 732.5L386.4 738.14L387.9 744.21L389.4 750.69L390.9 757.53L392.4 764.71L393.9 772.19L395.4 779.94L396.9 787.95L398.4 796.17L399.9 804.59L401.4 813.19L402.9 821.94L404.4 830.83L405.9 839.83L407.4 848.93L408.9 858.11L410.4 867.35L411.9 876.64L413.4 885.96L414.9 895.29L416.4 904.63L417.9 913.96L419.4 923.26L420.9 932.54L422.4 941.76L423.9 950.91L425.4 959.97L426.9 968.91L428.4 977.71L429.9 986.34L431.4 994.78L432.9 1002.98L434.4 1010.92L435.9 1018.57L437.4 1025.9L438.9 1032.87L440.4 1039.47L441.9 1045.66L443.4 1051.44L444.9 1056.77L446.4 1061.66L447.9 1066.1L449.4 1070.08L450.9 1073.61L452.4 1076.68L453.9 1079.31L455.4 1081.51L456.9 1083.28L458.4 1084.65L459.9 1085.63L461.4 1086.23L462.9 1086.44L464.4 1086.28L465.9 1085.76L467.4 1084.89L468.9 1083.69L470.4 1082.18L471.9 1080.37L473.4 1078.25L474.9 1075.86L476.4 1073.2L477.9 1070.28L479.4 1067.13L480.9 1063.76L482.4 1060.19L483.9 1056.43L485.4 1052.48L486.9 1048.33L488.4 1043.97L489.9 1039.43L491.4 1034.72L492.9 1029.88L494.4 1024.93L495.9 1019.91L497.4 1014.84L498.9 1009.75L500.4 1004.65L501.9 999.56L503.4 994.49L504.9 989.45L506.4 984.44L507.9 979.49L509.4 974.59L510.9 969.76L512.4 965.01L513.9 960.33L515.4 955.74L516.9 951.22L518.4 946.78L519.9 942.4L521.4 938.08L522.9 933.83L524.4 929.63L525.9 925.5L527.4 921.43L528.9 917.45L530.4 913.57L531.9 909.8L533.4 906.18L534.9 902.73L536.4 899.48L537.9 896.44L539.4 893.63L540.9 891.04L542.4 888.66L543.9 886.49L545.4 884.52L546.9 882.71L548.4 881.05L549.9 879.53L551.4 878.11L552.9 876.79L554.4 875.55L555.9 874.38L557.4 873.27L558.9 872.21L560.4 871.19L561.9 870.2L563.4 869.24L564.9 868.31L566.4 867.4L567.9 866.5L569.4 865.63L570.9 864.77L572.4 863.92L573.9 863.08L575.4 862.25L576.9 861.42L578.4 860.6L579.9 859.77L581.4 858.95L582.9 858.12L584.4 857.29L585.9 856.45L587.4 855.62L588.9 854.8L590.4 853.99L591.9 853.2L593.4 852.42L594.9 851.67L596.4 850.94L597.9 850.25L599.4 849.58L600.9 848.94L602.4 848.33L603.9 847.76L605.4 847.22L606.9 846.72L608.4 846.26L609.9 845.84L611.4 845.48L612.9 845.2L614.4 845L615.9 844.91L617.4 844.92L618.9 845.06L620.4 845.32L621.9 845.68L623.4 846.15L624.9 846.72L626.4 847.38L627.9 848.13L629.4 848.96L630.9 849.9L632.4 850.94L633.9 852.1L635.4 853.4L636.9 854.84L638.4 856.44L639.9 858.18L641.4 860.07L642.9 862.09L644.4 864.23L645.9 866.49L647.4 868.87L648.9 871.36L650.4 873.97L651.9 876.69L653.4 879.54L654.9 882.5L656.4 885.58L657.9 888.78L659.4 892.11L660.9 895.57L662.4 899.17L663.9 902.91L665.4 906.79L666.9 910.81L668.4 914.96L669.9 919.23L671.4 923.61L672.9 928.07L674.4 932.6L675.9 937.18L677.4 941.77L678.9 946.37L680.4 950.96L681.9 955.52L683.4 960.05L684.9 964.54L686.4 968.99L687.9 973.39L689.4 977.74L690.9 982.03L692.4 986.25L693.9 990.39L695.4 994.44L696.9 998.37L698.4 1002.19L699.9 1005.86L701.4 1009.38L702.9 1012.73L704.4 1015.9L705.9 1018.86L707.4 1021.61L708.9 1024.12L710.4 1026.38L711.9 1028.38L713.4 1030.11L714.9 1031.56L716.4 1032.72L717.9 1033.6L719.4 1034.18L720.9 1034.47L722.4 1034.45L723.9 1034.14L725.4 1033.55L726.9 1032.66L728.4 1031.5L729.9 1030.06L731.4 1028.35L732.9 1026.38L734.4 1024.15L735.9 1021.69L737.4 1018.98L738.9 1016.05L740.4 1012.91L741.9 1009.55L743.4 1006.01L744.9 1002.29L746.4 998.41L747.9 994.39L749.4 990.24L750.9 985.98L752.4 981.62L753.9 977.17L755.4 972.62L756.9 968L758.4 963.29L759.9 958.52L761.4 953.67L762.9 948.77L764.4 943.8L765.9 938.77L767.4 933.69L768.9 928.55L770.4 923.37L771.9 918.14L773.4 912.89L774.9 907.63L776.4 902.38L777.9 897.17L779.4 892.01L780.9 886.93L782.4 881.93L783.9 877.05L785.4 872.3L786.9 867.69L788.4 863.26L789.9 859.02L791.4 854.98L792.9 851.17L794.4 847.57L795.9 844.19L797.4 841.04L798.9 838.13L800.4 835.46L801.9 833.02L803.4 830.83L804.9 828.87L806.4 827.15L807.9 825.66L809.4 824.41L810.9 823.38L812.4 822.58L813.9 822.02L815.4 821.69L816.9 821.6L818.4 821.74L819.9 822.11L821.4 822.72L822.9 823.55L824.4 824.61L825.9 825.9L827.4 827.41L828.9 829.14L830.4 831.09L831.9 833.26L833.4 835.65L834.9 838.25L836.4 841.07L837.9 844.09L839.4 847.32L840.9 850.72L842.4 854.3L843.9 858.03L845.4 861.91L846.9 865.91L848.4 870.03L849.9 874.23L851.4 878.49L852.9 882.8L854.4 887.12L855.9 891.43L857.4 895.69L858.9 899.89L860.4 904.04L861.9 908.12L863.4 912.13L864.9 916.06L866.4 919.92L867.9 923.69L869.4 927.38L870.9 930.99L872.4 934.52L873.9 937.95L875.4 941.29L876.9 944.52L878.4 947.63L879.9 950.61L881.4 953.46L882.9 956.15L884.4 958.7L885.9 961.1L887.4 963.36L888.9 965.47L890.4 967.43L891.9 969.24L893.4 970.91L894.9 972.42L896.4 973.78L897.9 975L899.4 976.05L900.9 976.96L902.4 977.7L903.9 978.29L905.4 978.72L906.9 978.99L908.4 979.1L909.9 979.03L911.4 978.78L912.9 978.36L914.4 977.79L915.9 977.05L917.4 976.17L918.9 975.14L920.4 973.98L921.9 972.7L923.4 971.31L924.9 969.81L926.4 968.23L927.9 966.56L929.4 964.81L930.9 963L932.4 961.12L933.9 959.19L935.4 957.2L936.9 955.17L938.4 953.11L939.9 951.01L941.4 948.89L942.9 946.76L944.4 944.62L945.9 942.48L947.4 940.33L948.9 938.19L950.4 936.05L951.9 933.92L953.4 931.81L954.9 929.72L956.4 927.66L957.9 925.65L959.4 923.68L960.9 921.77L962.4 919.91L963.9 918.11L965.4 916.37L966.9 914.68L968.4 913.05L969.9 911.48L971.4 909.99L972.9 908.56L974.4 907.21L975.9 905.95L977.4 904.77L978.9 903.68L980.4 902.68L981.9 901.76L983.4 900.94L984.9 900.22L986.4 899.57L987.9 899.01L989.4 898.53L990.9 898.12L992.4 897.77L993.9 897.49L995.4 897.27L996.9 897.12L998.4 897.03L999.9 897L1001.4 897.04L1002.9 897.15L1004.4 897.31L1005.9 897.53L1007.4 897.81L1008.9 898.15L1010.4 898.54L1011.9 898.99L1013.4 899.47L1014.9 900.01L1016.4 900.58L1017.9 901.19L1019.4 901.83L1020.9 902.51L1022.4 903.23L1023.9 903.99L1025.4 904.77L1026.9 905.59L1028.4 906.43L1029.9 907.29L1031.4 908.16L1032.9 909.04L1034.4 909.93L1035.9 910.83L1037.4 911.72L1038.9 912.62L1040.4 913.53L1041.9 914.44L1043.4 915.35L1044.9 916.26L1046.4 917.19L1047.9 918.12L1049.4 919.07L1050.9 920.02L1052.4 920.96L1053.9 921.89L1055.4 922.8L1056.9 923.68L1058.4 924.52L1059.9 925.34L1061.4 926.12L1062.9 926.88L1064.4 927.61L1065.9 928.32L1067.4 929.01L1068.9 929.66L1070.4 930.28L1071.9 930.87L1073.4 931.42L1074.9 931.94L1076.4 932.42L1077.9 932.86L1079.4 933.28L1080.9 933.67L1082.4 934.04L1083.9 934.4L1085.4 934.75" stroke="#00f" stroke-width="4.4" stroke-dasharray="7.4 8.7" stroke-dashoffset="-2.2" stroke-linecap="round"/>
</g></svg>
<g class="sa" font-size="27" text-anchor="middle">
<text x="333.6" y="713.3">1.0</text>
<text x="333.6" y="823.7">0.5</text>
<text x="333.6" y="938.2">0.0</text>
<text x="333.6" y="1045.9">-0.5</text>
<text x="333.6" y="1153.8">-1.0</text>
</g>
<g class="sa" font-size="27" text-anchor="middle">
<text x="364.4" y="1182.8">0.0</text>
<text x="453.92" y="1182.8">0.5</text>
<text x="543.45" y="1182.8">1.0</text>
<text x="632.98" y="1182.8">1.5</text>
<text x="722.5" y="1182.8">2.0</text>
<text x="812.02" y="1182.8">2.5</text>
<text x="901.55" y="1182.8">3.0</text>
<text x="991.08" y="1182.8">3.5</text>
<text x="1080.6" y="1182.8">4.0</text>
</g>
<text class="sa" x="364.8" y="688.5" font-size="26.6">Main peak</text>
<text class="sa" x="521" y="688.3" font-size="26.65">1st sidelobe peaks</text>
<text class="sa" x="720.8" y="742" font-size="26.8">2nd sidelobe peaks</text>
<text class="sa" x="636" y="800" font-size="29.4">Peak</text>
<text class="sa" x="636.5" y="836" font-size="29.5">reduction</text>
<text class="sa" x="517" y="1083" font-size="29.5">Peak shift</text>
<path class="k" stroke-width="1.6" stroke-linejoin="miter" d="M400.9 692.5L391.3 737.6M387.9 719.6L391.3 737.6L401.6 722.1"/>
<path class="k" stroke-width="1.75" d="M528.75 741.25C528.75 732.55 532.75 726.75 542.75 726.75H588.25C594.75 726.75 598.25 719.55 598.25 708.75C598.25 719.55 601.75 726.75 608.25 726.75H654.00C664.00 726.75 668.00 732.55 668.00 741.25"/>
<path class="k" stroke-width="1.75" d="M724.00 773.50C724.00 763.54 727.60 756.90 736.60 756.90H783.75C789.60 756.90 792.75 753.94 792.75 749.50C792.75 753.94 795.90 756.90 801.75 756.90H850.50C859.50 756.90 863.10 763.54 863.10 773.50"/>
<path class="k" stroke-width="2" d="M619.2 773V832"/>
<path fill="#000" d="M619.20 841.20L624.80 826.30L619.20 830.62L613.60 826.30Z"/>
<path class="k" stroke-width="2" d="M559 1040.5H614"/>
<path fill="#000" d="M622.60 1040.50L607.40 1035.05L611.50 1040.50L607.40 1045.95Z"/>
<path d="M720.6 1072.25H788.1" stroke="#f00" stroke-width="4.4" stroke-linecap="round" fill="none"/>
<path d="M720.6 1104.4H788.1" stroke="#00f" stroke-width="4.4" stroke-linecap="round" stroke-dasharray="7.8 8.3" fill="none"/>
<text class="sa" x="798.8" y="1079.8" font-size="26.8">Normal pulse</text>
<text class="sa" x="799" y="1110.9" font-size="26.8">Partial inversion pulse</text>
<text class="se" transform="translate(295.6 919) rotate(-90)" text-anchor="middle" font-size="33"><tspan font-style="italic">R</tspan><tspan font-size="21" dx="1.5" dy="7.3">u0u0</tspan><tspan dy="-7.3"> (−)</tspan></text>
<text class="se" x="679.5" y="1225.4" font-size="32.6">Δ<tspan font-style="italic">t</tspan>/<tspan font-style="italic">T</tspan><tspan font-size="20.5" dy="7.5">0</tspan><tspan dy="-7.5"> (−)</tspan></text>
<text class="se" x="679.5" y="1275" font-size="43.5">(c)</text>
</g>
</svg>
</body></html>
